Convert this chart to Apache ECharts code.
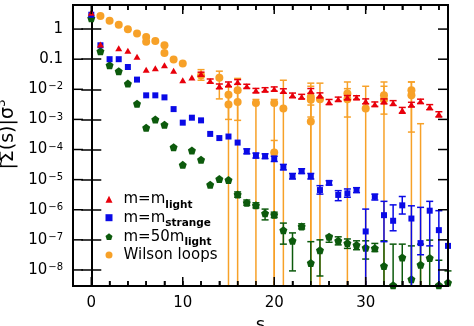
<!DOCTYPE html>
<html><head><meta charset="utf-8">
<script src="https://cdn.jsdelivr.net/npm/echarts@6/dist/echarts.min.js"></script>
<style>html,body{margin:0;padding:0;background:#fff}#c{width:474px;height:326px}</style>
</head><body><div id="c"></div>
<script>
// ---------- data ----------
const xMajorTicks = [0, 10, 20, 30];
const xTickValues = [0, 2, 4, 6, 8, 10, 12, 14, 16, 18, 20, 22, 24, 26, 28, 30, 32, 34, 36, 38];
const yDecades = [1e-8, 1e-7, 1e-6, 1e-5, 1e-4, 1e-3, 1e-2, 0.1, 1];

const lightS  = [0,1,3,4,5,6,7,8,9,10,11,12,13,14,15,16,17,18,19,20,21,22,23,24,25,26,27,28,29,30,31,32,33,34,35,36,37,38];
const lightV  = [3.5,0.31,0.23,0.19,0.12,0.045,0.05,0.063,0.041,0.020,0.0245,0.032,0.019,0.0126,0.0147,0.0175,0.0126,0.0091,0.0097,0.0102,0.0088,0.0063,0.0057,0.0088,0.0063,0.0038,0.0047,0.0053,0.0053,0.004,0.0032,0.004,0.0035,0.002,0.0031,0.004,0.0026,0.0015];
const lightLo = [null,null,null,null,null,null,null,null,null,null,null,0.027,0.016,0.0105,0.0123,0.0146,0.0108,0.0077,0.0083,0.0087,0.0074,0.0053,0.0048,0.0073,0.0052,0.0031,0.0040,0.0045,0.0046,0.0033,0.0027,0.0033,0.0029,0.0016,0.0026,0.0034,0.0021,0.0012];
const lightHi = [null,null,null,null,null,null,null,null,null,null,null,0.037,0.022,0.015,0.0175,0.021,0.0147,0.0107,0.0113,0.012,0.0104,0.0075,0.0068,0.0106,0.0076,0.0046,0.0055,0.0062,0.0061,0.0048,0.0038,0.0048,0.0042,0.0025,0.0037,0.0047,0.0031,0.0018];

const strangeS  = [0,1,2,3,4,5,6,7,8,9,10,11,12,13,14,15,16,17,18,19,20,21,22,23,24,25,26,27,28,29,30,31,32,33,34,35,36,37,38,39];
const strangeV  = [3.0,0.29,0.10,0.10,0.055,0.021,0.0063,0.0063,0.0054,0.0022,7.8e-4,1.14e-3,9.3e-4,3.3e-4,2.4e-4,2.7e-4,1.7e-4,8.7e-5,6.3e-5,6.0e-5,4.9e-5,2.6e-5,1.3e-5,1.9e-5,1.3e-5,4.5e-6,7.8e-6,3.1e-6,3.5e-6,4.5e-6,1.9e-7,2.7e-6,6.6e-7,4.3e-7,1.4e-6,5.1e-7,7.8e-8,9.3e-7,2.1e-7,6.3e-8];
const strangeLo = [null,null,null,null,null,null,null,null,null,null,null,null,null,null,null,null,null,7.2e-5,5.2e-5,5.0e-5,4.0e-5,2.1e-5,1.05e-5,1.6e-5,1.05e-5,3.3e-6,6.6e-6,2.0e-6,2.6e-6,3.7e-6,0,2.1e-6,8.7e-8,2e-7,7.2e-7,0,3.2e-8,6.3e-8,0,null];
const strangeHi = [null,null,null,null,null,null,null,null,null,null,null,null,null,null,null,null,null,1.05e-4,7.6e-5,7.2e-5,6.0e-5,3.2e-5,1.6e-5,2.3e-5,1.6e-5,6.3e-6,9.2e-6,4.3e-6,4.9e-6,5.4e-6,1.05e-6,3.3e-6,1.9e-6,1.45e-6,2.75e-6,1.35e-6,1.2e-6,1.9e-6,9.3e-7,null];

const heavyS  = [0,1,2,3,4,5,6,7,8,9,10,11,12,13,14,15,16,17,18,19,20,21,22,23,24,25,26,27,28,29,30,31,32,33,34,35,36,37,38,39];
const heavyV  = [2.3,0.185,0.063,0.040,0.0155,0.0033,5.3e-4,0.001,6.7e-4,1.2e-4,3.1e-5,9.3e-5,4.6e-5,6.8e-6,1.05e-5,9.8e-6,3.2e-6,1.7e-6,1.4e-6,7.6e-7,6.8e-7,2.1e-7,9.3e-8,2.8e-7,1.7e-8,4.5e-8,1.26e-7,9.3e-8,7.8e-8,6.8e-8,5.5e-8,5.3e-8,1.35e-8,3.1e-9,2.6e-8,4.9e-9,1.5e-8,2.5e-8,3.1e-9,3.8e-9];
const heavyLo = [null,null,null,null,null,null,null,null,null,null,null,null,null,null,null,null,2.6e-6,1.4e-6,1.15e-6,4.6e-7,5.5e-7,7.2e-8,9.3e-9,2.3e-7,0,6.3e-9,8.3e-8,6.8e-8,5.2e-8,4.7e-8,2.3e-8,4.1e-8,0,0,0,0,0,0,0,0];
const heavyHi = [null,null,null,null,null,null,null,null,null,null,null,null,null,null,null,null,3.9e-6,2.1e-6,1.7e-6,1.05e-6,8.3e-7,3.6e-7,1.7e-7,3.4e-7,8.7e-8,1e-7,1.4e-7,1.26e-7,1.07e-7,9.3e-8,9.3e-8,7.6e-8,9.3e-8,7.2e-8,7.2e-8,6.3e-8,7.2e-8,9.8e-8,2.1e-8,9.3e-9];

const wilsonS  = [1,2,3,4,5,6,6,7,8,8,9,10,12,14,15,15,16,16,18,20,20,21,24,24,24,25,28,28,30,32,32,35,35,36];
const wilsonV  = [2.7,1.9,1.39,0.98,0.72,0.55,0.38,0.40,0.29,0.16,0.098,0.072,0.029,0.024,0.0066,0.0031,0.0093,0.0038,0.0035,0.0035,8e-5,0.0023,0.0055,0.0045,8.5e-4,0.0047,0.0072,0.0047,0.0023,0.0063,0.0045,0.0093,0.0063,1e-10];
const wilsonLo = [null,null,null,null,null,null,null,null,null,null,null,null,0.02,0.0048,0,0.001,0,9.3e-4,0,0,0,0,0,0.0012,0,0,0,0.0012,0,0,0.0015,0,3.8e-4,0];
const wilsonHi = [null,null,null,null,null,null,null,null,null,null,null,null,0.045,0.04,0.012,0.006,0.023,0.008,0.0046,0.0046,2e-4,0.02,0.016,0.0126,0.003,0.016,0.0175,0.0105,0.0126,0.0175,0.0126,0.0175,0.0175,7.2e-4];

const legendNames = ['light', 'strange', 'heavy', 'wilson'];
const legendTexts = ['{t|m=m}{s|light}', '{t|m=m}{s|strange}', '{t|m=50m}{s|light}', '{t|Wilson loops}'];

// ---------- chart ----------
const FONT = 'DejaVu Sans';
const C = { light: '#e8000b', strange: '#0a0ae6', heavy: '#0c5a0c', wilson: '#f7a128' };
const PENT = 'path://M0,-10L9.51,-3.09L5.88,8.09L-5.88,8.09L-9.51,-3.09Z';
const ICONS = { light: 'triangle', strange: 'rect', heavy: PENT, wilson: 'circle' };
const YMIN = 2.93e-9, YMAX = 6.31;

function pts(S, V) { return S.map((s, i) => [s, V[i]]); }
function errs(S, LO, HI) {
  return S.map((s, i) => (LO[i] === null || HI[i] === null) ? null : [s, LO[i], HI[i]]).filter(Boolean);
}
function errRender(color) {
  return function (params, api) {
    const s = api.value(0), lo = api.value(1), hi = api.value(2);
    const cs = params.coordSys;
    const top = cs.y, bot = cs.y + cs.height;
    const x = api.coord([s, 1])[0];
    const yHi = api.coord([s, hi])[1];
    const yLo = lo > 0 ? api.coord([s, lo])[1] : bot + 10;
    const cl = v => Math.max(top, Math.min(bot, v));
    const st = { stroke: color, lineWidth: 1.5 };
    const ch = [{ type: 'line', shape: { x1: x, y1: cl(yHi), x2: x, y2: cl(yLo) }, style: st }];
    if (yHi >= top && yHi <= bot) ch.push({ type: 'line', shape: { x1: x - 3.5, y1: yHi, x2: x + 3.5, y2: yHi }, style: st });
    if (yLo >= top && yLo <= bot) ch.push({ type: 'line', shape: { x1: x - 3.5, y1: yLo, x2: x + 3.5, y2: yLo }, style: st });
    return { type: 'group', children: ch };
  };
}
function errSeries(data, color, z) {
  return { type: 'custom', data, renderItem: errRender(color), encode: { x: 0, y: 2 }, z, silent: true };
}
function scat(name, data, symbol, size, color, z) {
  return { name, type: 'scatter', data, symbol, symbolSize: size, itemStyle: { color, opacity: 1 }, z, silent: true, clip: true };
}
// decade ticks on both vertical frame sides, placed by the log y scale
function yTickRender(params, api) {
  const cs = params.coordSys;
  const y = api.coord([0, api.value(1)])[1];
  const st = { stroke: '#000', lineWidth: 1.5 };
  return { type: 'group', children: [
    { type: 'line', shape: { x1: cs.x, y1: y, x2: cs.x + 10, y2: y }, style: st },
    { type: 'line', shape: { x1: cs.x + cs.width - 10, y1: y, x2: cs.x + cs.width, y2: y }, style: st }
  ] };
}
// x ticks on bottom and top frame sides (longer at labelled values), placed by the x scale
function xTickRender(params, api) {
  const cs = params.coordSys;
  const v = api.value(0);
  const x = api.coord([v, 1])[0];
  const len = xMajorTicks.indexOf(v) >= 0 ? 9 : 5;
  const st = { stroke: '#000', lineWidth: 1.5 };
  return { type: 'group', children: [
    { type: 'line', shape: { x1: x, y1: cs.y + cs.height, x2: x, y2: cs.y + cs.height - len }, style: st },
    { type: 'line', shape: { x1: x, y1: cs.y, x2: x, y2: cs.y + len }, style: st }
  ] };
}
// plot frame
function frameRender(params, api) {
  const cs = params.coordSys;
  const st = { stroke: '#000', lineWidth: 2, fill: null };
  return { type: 'rect', shape: { x: cs.x, y: cs.y, width: cs.width, height: cs.height }, style: st };
}

function yLab(v) {
  const e = Math.round(Math.log10(v));
  if (e === 0) return '1';
  if (e === -1) return '0.1';
  return '{b|10}{p|\u2212' + (-e) + '}';
}

const xBase = { type: 'value', min: -2, max: 39, gridIndex: 0, splitLine: { show: false } };
const yBase = { type: 'log', logBase: 10, min: YMIN, max: YMAX, gridIndex: 0, splitLine: { show: false } };
const axLine = { show: true, lineStyle: { color: '#000', width: 2 } };
const tickStyle = { color: '#000', width: 1.5 };

const legendRowTops = [186.3, 204.7, 223.7, 242];
const legends = legendNames.map((n, i) => ({
  orient: 'vertical', left: 100.5, top: legendRowTops[i], itemWidth: 7, itemHeight: 7,
  selectedMode: false,
  data: [{ name: n, icon: ICONS[n] }],
  formatter: () => legendTexts[i],
  textStyle: {
    color: '#000', fontFamily: FONT, fontSize: 15, lineHeight: 16, padding: [0, 0, 0, 6],
    rich: {
      t: { color: '#000', fontFamily: FONT, fontSize: 15, lineHeight: 16 },
      s: { color: '#000', fontFamily: FONT, fontSize: 10.5, fontWeight: 'bold', lineHeight: 8, padding: [8, 0, 0, 0], verticalAlign: 'top' }
    }
  }
}));

const option = {
  animation: false,
  backgroundColor: '#fff',
  grid: { left: 73, right: 26, top: 5, bottom: 40, containLabel: false, outerBoundsMode: 'none' },
  xAxis: [
    Object.assign({}, xBase, {
      position: 'bottom', interval: 2, axisLine: axLine,
      axisTick: { show: true, inside: true, length: 5, lineStyle: tickStyle },
      axisLabel: { show: true, customValues: xMajorTicks, color: '#000', fontFamily: FONT, fontSize: 15, margin: 10 },
      name: 's', nameLocation: 'middle', nameGap: 21,
      nameTextStyle: { color: '#000', fontFamily: FONT, fontSize: 18 }
    }),
    Object.assign({}, xBase, {
      position: 'top', interval: 2, axisLine: axLine,
      axisTick: { show: true, inside: true, length: 5, lineStyle: tickStyle },
      axisLabel: { show: false }
    })
  ],
  yAxis: [
    Object.assign({}, yBase, {
      position: 'left', axisLine: axLine,
      axisTick: { show: true, inside: true, length: 10, customValues: yDecades, lineStyle: tickStyle },
      axisLabel: {
        show: true, customValues: yDecades, formatter: yLab, margin: 10,
        color: '#000', fontFamily: FONT, fontSize: 15,
        rich: {
          b: { fontFamily: FONT, fontSize: 15, color: '#000', lineHeight: 17 },
          p: { fontFamily: FONT, fontSize: 10, color: '#000', lineHeight: 8, padding: [1, 0, 0, 1], verticalAlign: 'top' }
        }
      },
      name: '{a||}{t|~}{a|\u03A3(s)|\u03C3}{b|3}', nameLocation: 'middle', nameGap: 47, nameRotate: 90,
      nameTextStyle: {
        color: '#000', fontFamily: FONT, fontSize: 19, padding: [0, 0, 0, 22],
        rich: {
          a: { fontFamily: FONT, fontSize: 19, color: '#000', lineHeight: 24 },
          t: { fontFamily: FONT, fontSize: 14, color: '#000', lineHeight: 4, width: 0, padding: [0, 0, 0, 1], verticalAlign: 'top' },
          b: { fontFamily: FONT, fontSize: 12, color: '#000', lineHeight: 10, verticalAlign: 'top' }
        }
      }
    }),
    Object.assign({}, yBase, {
      position: 'right', axisLine: axLine,
      axisTick: { show: true, inside: true, length: 10, customValues: yDecades, lineStyle: tickStyle },
      axisLabel: { show: false }
    })
  ],
  legend: legends,
  series: [
    { type: 'custom', data: [[0, 1]], renderItem: frameRender, encode: { x: 0, y: 1 }, z: 21, silent: true },
    { type: 'custom', data: yDecades.map(v => [0, v]), renderItem: yTickRender, encode: { x: 0, y: 1 }, z: 20, silent: true },
    { type: 'custom', data: xTickValues.map(v => [v, 1]), renderItem: xTickRender, encode: { x: 0, y: 1 }, z: 20, silent: true },
    errSeries(errs(wilsonS, wilsonLo, wilsonHi), C.wilson, 1),
    scat('wilson', pts(wilsonS, wilsonV), 'circle', 8, C.wilson, 2),
    errSeries(errs(heavyS, heavyLo, heavyHi), C.heavy, 3),
    scat('heavy', pts(heavyS, heavyV), PENT, 8, C.heavy, 4),
    errSeries(errs(strangeS, strangeLo, strangeHi), C.strange, 5),
    scat('strange', pts(strangeS, strangeV), 'rect', 6, C.strange, 6),
    errSeries(errs(lightS, lightLo, lightHi), C.light, 7),
    scat('light', pts(lightS, lightV), 'triangle', [7, 6], C.light, 8)
  ]
};

const chart = echarts.init(document.getElementById('c'), null, { renderer: 'canvas' });
chart.setOption(option);
</script>
</body></html>
